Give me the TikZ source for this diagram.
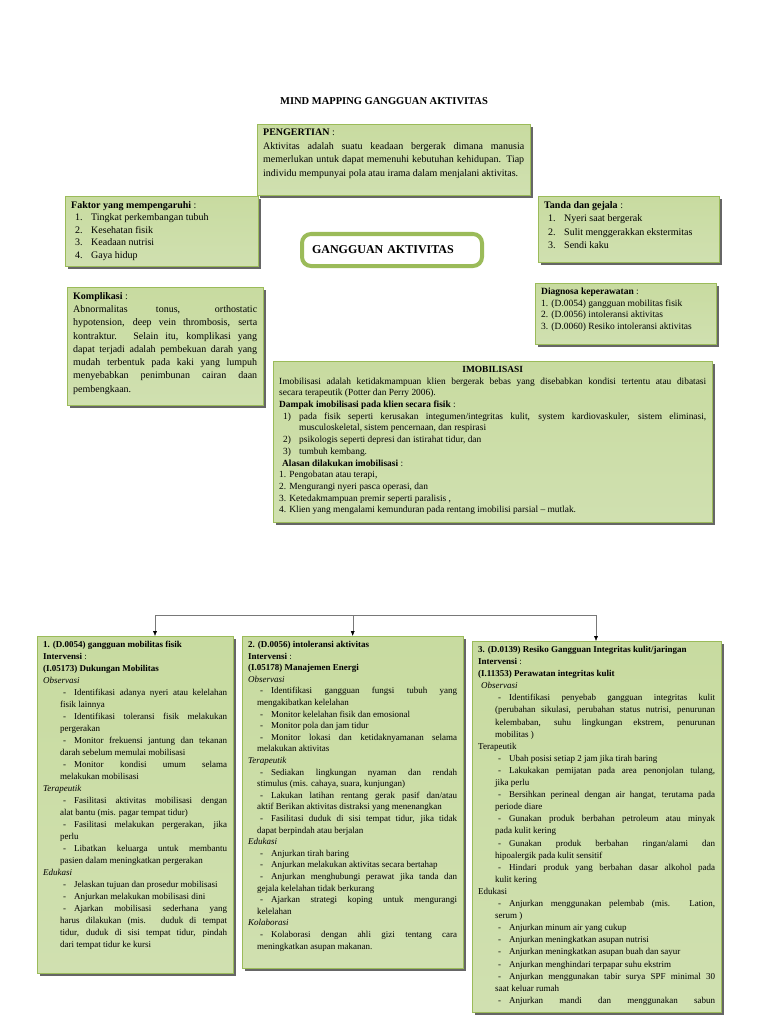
\documentclass[tikz,border=0pt]{standalone}
\usepackage{fontspec}
\setmainfont{Liberation Serif}
\usepackage{tikz}
\usetikzlibrary{arrows.meta, shadows, calc}
\definecolor{mindEdge}{RGB}{155,187,89}
\definecolor{mindTop}{RGB}{200,219,160}
\definecolor{mindMid}{RGB}{240,245,228}
\definecolor{mindBot}{RGB}{208,224,176}
\definecolor{busGray}{RGB}{120,120,120}
\newcommand{\boxfont}[2]{\fontsize{#1}{#2}\selectfont}
\newcommand{\dashitem}[2][17pt]{\par{\leftskip=#1\noindent\hspace*{3pt}-\hspace{8pt}#2\par}}
\newcommand{\numitem}[2]{\par{\hangindent=20pt\hangafter=1\noindent\hspace*{4pt}\makebox[16pt][l]{#1}#2\par}}
\tikzset{
  infobox/.style={draw=mindEdge, thin, top color=mindTop, middle color=mindMid, bottom color=mindBot,
    drop shadow={shadow xshift=2.5pt, shadow yshift=-2.5pt, opacity=0.6, fill=black},
    inner xsep=6pt, inner ysep=5pt, anchor=north west},
  panel/.style n args={3}{infobox, font=#3,
    execute at begin node={\begin{minipage}[c][#2][t]{#1}},
    execute at end node={\end{minipage}}},
  hubnode/.style={draw=mindEdge, line width=4pt, rounded corners=9pt, fill=white,
    minimum width=180pt, minimum height=32pt, text width=160pt, align=left,
    font=\bfseries\boxfont{12}{14}},
  busline/.style={draw=busGray, thin},
  busarrow/.style={busline, -{Latex[length=5pt, width=4pt, color=black]}}
}

\begin{document}
\begin{tikzpicture}[x=1pt, y=-1pt]
  \useasboundingbox (0,0) rectangle (768,1024);
  \fill[white] (0,0) rectangle (768,1024);

  \node[font=\bfseries\boxfont{10.5}{12}] (title) at (384,101) {MIND MAPPING GANGGUAN AKTIVITAS};

  \node[panel={261pt}{61pt}{\boxfont{10}{13.5}}] (pengertian) at (257,124) {%
    \textbf{PENGERTIAN} :\par
    Aktivitas adalah suatu keadaan bergerak dimana manusia\linebreak
    memerlukan untuk dapat memenuhi kebutuhan kehidupan. Tiap\linebreak
    individu mempunyai pola atau irama dalam menjalani aktivitas.};

  \node[panel={181pt}{60pt}{\boxfont{10}{12.5}}] (faktor) at (65,196) {%
    \textbf{Faktor yang mempengaruhi} :
    \numitem{1.}{Tingkat perkembangan tubuh}
    \numitem{2.}{Kesehatan fisik}
    \numitem{3.}{Keadaan nutrisi}
    \numitem{4.}{Gaya hidup}};

  \node[panel={169pt}{56pt}{\boxfont{10}{13.5}}] (tanda) at (538,196) {%
    \textbf{Tanda dan gejala} :
    \numitem{1.}{Nyeri saat bergerak}
    \numitem{2.}{Sulit menggerakkan ekstermitas}
    \numitem{3.}{Sendi kaku}};

  \node[hubnode] (hub) at (392,250) {GANGGUAN AKTIVITAS};

  \node[panel={184pt}{108pt}{\boxfont{10}{13.3}}] (komplikasi) at (67,287) {%
    \textbf{Komplikasi} :\par
    Abnormalitas tonus, orthostatic\linebreak
    hypotension, deep vein thrombosis, serta\linebreak
    kontraktur. Selain itu, komplikasi yang\linebreak
    dapat terjadi adalah pembekuan darah yang\linebreak
    mudah terbentuk pada kaki yang lumpuh\linebreak
    menyebabkan penimbunan cairan daan\linebreak
    pembengkaan.};

  \node[panel={169pt}{51pt}{\boxfont{9.5}{11.5}}] (diagnosa) at (535,283) {%
    \textbf{Diagnosa keperawatan} :\par
    1. (D.0054) gangguan mobilitas fisik\par
    2. (D.0056) intoleransi aktivitas\par
    3. (D.0060) Resiko intoleransi aktivitas};

  \node[panel={427pt}{151pt}{\boxfont{9.4}{11.7}}] (imobilisasi) at (273,361) {%
    \centerline{\textbf{IMOBILISASI}}
    Imobilisasi adalah ketidakmampuan klien bergerak bebas yang disebabkan kondisi tertentu atau dibatasi\linebreak
    secara terapeutik (Potter dan Perry 2006).\par
    \textbf{Dampak imobilisasi pada klien secara fisik} :
    \numitem{1)}{pada fisik seperti kerusakan integumen/integritas kulit, system kardiovaskuler, sistem eliminasi,\linebreak
      musculoskeletal, sistem pencernaan, dan respirasi}
    \numitem{2)}{psikologis seperti depresi dan istirahat tidur, dan}
    \numitem{3)}{tumbuh kembang.}
    \hspace*{3pt}\textbf{Alasan dilakukan imobilisasi} :\par
    1. Pengobatan atau terapi,\par
    2. Mengurangi nyeri pasca operasi, dan\par
    3. Ketedakmampuan premir seperti paralisis ,\par
    4. Klien yang mengalami kemunduran pada rentang imobilisi parsial -- mutlak.};

  % intervensi per diagnosa
  \node[panel={184pt}{327pt}{\boxfont{9}{12}}] (dxMobilitas) at (37,636) {%
    \textbf{1. (D.0054) gangguan mobilitas fisik}\par
    \textbf{Intervensi} :\par
    \textbf{(I.05173) Dukungan Mobilitas}\par
    \textit{Observasi}
    \dashitem{Identifikasi adanya nyeri atau kelelahan\linebreak fisik lainnya}
    \dashitem{Identifikasi toleransi fisik melakukan\linebreak pergerakan}
    \dashitem{Monitor frekuensi jantung dan tekanan\linebreak darah sebelum memulai mobilisasi}
    \dashitem{Monitor kondisi umum selama\linebreak melakukan mobilisasi}
    \textit{Terapeutik}
    \dashitem{Fasilitasi aktivitas mobilisasi dengan\linebreak alat bantu (mis. pagar tempat tidur)}
    \dashitem{Fasilitasi melakukan pergerakan, jika\linebreak perlu}
    \dashitem{Libatkan keluarga untuk membantu\linebreak pasien dalam meningkatkan pergerakan}
    \textit{Edukasi}
    \dashitem{Jelaskan tujuan dan prosedur mobilisasi}
    \dashitem{Anjurkan melakukan mobilisasi dini}
    \dashitem{Ajarkan mobilisasi sederhana yang\linebreak harus dilakukan (mis. duduk di tempat\linebreak
      tidur, duduk di sisi tempat tidur, pindah\linebreak dari tempat tidur ke kursi}};

  \node[panel={209pt}{322pt}{\boxfont{9}{11.6}}] (dxEnergi) at (242,636) {%
    \textbf{2. (D.0056) intoleransi aktivitas}\par
    \textbf{Intervensi} :\par
    \textbf{(I.05178) Manajemen Energi}\par
    \textit{Observasi}
    \dashitem[9pt]{Identifikasi gangguan fungsi tubuh yang\linebreak mengakibatkan kelelahan}
    \dashitem[9pt]{Monitor kelelahan fisik dan emosional}
    \dashitem[9pt]{Monitor pola dan jam tidur}
    \dashitem[9pt]{Monitor lokasi dan ketidaknyamanan selama\linebreak melakukan aktivitas}
    \textit{Terapeutik}
    \dashitem[9pt]{Sediakan lingkungan nyaman dan rendah\linebreak stimulus (mis. cahaya, suara, kunjungan)}
    \dashitem[9pt]{Lakukan latihan rentang gerak pasif dan/atau\linebreak aktif Berikan aktivitas distraksi yang menenangkan}
    \dashitem[9pt]{Fasilitasi duduk di sisi tempat tidur, jika tidak\linebreak dapat berpindah atau berjalan}
    \textit{Edukasi}
    \dashitem[9pt]{Anjurkan tirah baring}
    \dashitem[9pt]{Anjurkan melakukan aktivitas secara bertahap}
    \dashitem[9pt]{Anjurkan menghubungi perawat jika tanda dan\linebreak gejala kelelahan tidak berkurang}
    \dashitem[9pt]{Ajarkan strategi koping untuk mengurangi\linebreak kelelahan}
    \textit{Kolaborasi}
    \dashitem[9pt]{Kolaborasi dengan ahli gizi tentang cara\linebreak meningkatkan asupan makanan.}};

  \node[panel={237pt}{361pt}{\boxfont{9}{12.1}}] (dxKulit) at (472,641) {%
    \textbf{3. (D.0139) Resiko Gangguan Integritas kulit/jaringan}\par
    \textbf{Intervensi} :\par
    \textbf{(I.11353) Perawatan integritas kulit}\par
    \hspace*{3pt}\textit{Observasi}
    \dashitem{Identifikasi penyebab gangguan integritas kulit\linebreak
      (perubahan sikulasi, perubahan status nutrisi, penurunan\linebreak
      kelembaban, suhu lingkungan ekstrem, penurunan\linebreak mobilitas )}
    Terapeutik
    \dashitem{Ubah posisi setiap 2 jam jika tirah baring}
    \dashitem{Lakukakan pemijatan pada area penonjolan tulang,\linebreak jika perlu}
    \dashitem{Bersihkan perineal dengan air hangat, terutama pada\linebreak periode diare}
    \dashitem{Gunakan produk berbahan petroleum atau minyak\linebreak pada kulit kering}
    \dashitem{Gunakan produk berbahan ringan/alami dan\linebreak hipoalergik pada kulit sensitif}
    \dashitem{Hindari produk yang berbahan dasar alkohol pada\linebreak kulit kering}
    Edukasi
    \dashitem{Anjurkan menggunakan pelembab (mis. Lation,\linebreak serum )}
    \dashitem{Anjurkan minum air yang cukup}
    \dashitem{Anjurkan meningkatkan asupan nutrisi}
    \dashitem{Anjurkan meningkatkan asupan buah dan sayur}
    \dashitem{Anjurkan menghindari terpapar suhu ekstrim}
    \dashitem{Anjurkan menggunakan tabir surya SPF minimal 30\linebreak saat keluar rumah}
    \dashitem{\parfillskip=0pt Anjurkan mandi dan menggunakan sabun}};

  \coordinate (busL) at (155,615);
  \coordinate (busR) at (596,615);
  \draw[busline] (busL) -- (busR);
  \draw[busarrow] (busL) -- (busL |- dxMobilitas.north);
  \draw[busarrow] (dxEnergi.north |- busL) -- (dxEnergi.north);
  \draw[busarrow] (busR) -- (busR |- dxKulit.north);
\end{tikzpicture}
\end{document}
